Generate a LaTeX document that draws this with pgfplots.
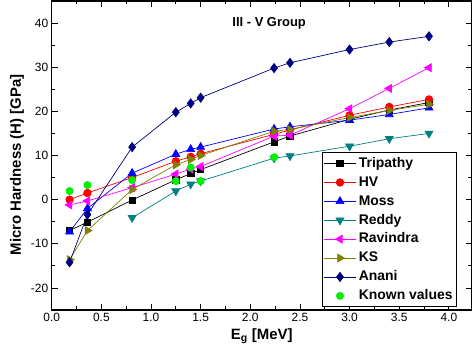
\documentclass[border=0pt]{standalone}
\usepackage{fontspec}
\setmainfont{Liberation Sans}
\usepackage{pgfplots}
\pgfplotsset{compat=1.18}
\definecolor{ksc}{RGB}{128,128,0}
\definecolor{reddyc}{RGB}{0,128,128}
\definecolor{ananic}{RGB}{0,0,128}
\definecolor{knownc}{RGB}{0,240,0}
\definecolor{hvc}{RGB}{255,0,0}
\definecolor{mossc}{RGB}{0,0,255}
\definecolor{ravc}{RGB}{255,0,255}
\begin{document}
\begin{tikzpicture}
\begin{axis}[
  scale only axis, width=420bp, height=309bp,
  xmin=0, xmax=4.23, ymin=-25, ymax=45,
  xtick={0,0.5,1,1.5,2,2.5,3,3.5,4}, minor x tick num=1,
  ytick={-20,-10,0,10,20,30,40}, minor y tick num=1,
  tick align=inside,
  major tick length=6bp, minor tick length=3.5bp,
  axis line style={line width=1.1pt},
  every tick/.style={line width=0.8pt, black},
  /pgf/number format/assume math mode=true,
  xticklabel style={/pgf/number format/fixed, /pgf/number format/fixed zerofill, /pgf/number format/precision=1},
  ticklabel style={font=\fontsize{12}{14}\selectfont},
  xlabel={E\textsubscript{g} [MeV]},
  ylabel={Micro Hardness (H) [GPa]},
  label style={font=\bfseries\fontsize{15}{17}\selectfont},
  ylabel style={at={(ticklabel cs:0.47)}},
  legend style={at={(0.965,0.51)}, anchor=north east, draw=black, line width=0.8pt,
    font=\bfseries\fontsize{14}{16}\selectfont, row sep=0.4bp, inner sep=1.5bp,
    nodes={text height=10.5bp, text depth=3bp, inner sep=2.5bp}},
  legend cell align=left,
  legend image code/.code={\draw[mark repeat=2,mark phase=2,#1] plot coordinates {(0bp,0bp) (16bp,0bp) (32bp,0bp)};},
  every axis plot/.append style={line width=0.7pt},
]
\addplot[black, mark=square*, mark size=3.2pt, mark options={solid}] coordinates {
 (0.18,-7.0) (0.36,-5.1) (0.81,-0.1) (1.25,4.5) (1.40,5.9) (1.50,6.8) (2.24,13.1) (2.40,14.4) (3.00,18.2) (3.40,20.3) (3.80,22.0)};
\addlegendentry{Tripathy}
\addplot[hvc, mark=*, mark size=3.8pt, mark options={solid}] coordinates {
 (0.18,0.0) (0.36,1.5) (0.81,5.0) (1.25,8.7) (1.40,9.7) (1.50,10.4) (2.24,14.8) (2.40,15.8) (3.00,19.1) (3.40,21.0) (3.80,22.7)};
\addlegendentry{HV}
\addplot[mossc, mark=triangle*, mark size=4.6pt, mark options={solid}] coordinates {
 (0.18,-7.3) (0.36,-2.0) (0.81,6.0) (1.25,10.3) (1.40,11.4) (1.50,11.9) (2.24,16.0) (2.40,16.5) (3.00,18.0) (3.40,19.3) (3.80,20.8)};
\addlegendentry{Moss}
\addplot[reddyc, mark=triangle*, mark size=4.6pt, mark options={solid, rotate=180}] coordinates {
 (0.81,-4.1) (1.25,1.95) (1.40,3.5) (1.50,4.2) (2.24,9.4) (2.40,9.9) (3.00,12.1) (3.40,13.8) (3.80,15.0)};
\addlegendentry{Reddy}
\addplot[ravc, mark=triangle*, mark size=4.6pt, mark options={solid, rotate=90}] coordinates {
 (0.18,-1.2) (0.36,-0.3) (0.81,2.7) (1.25,5.8) (1.40,6.9) (1.50,7.5) (2.24,14.4) (2.40,14.6) (3.00,20.6) (3.40,25.2) (3.80,29.9)};
\addlegendentry{Ravindra}
\addplot[ksc, mark=triangle*, mark size=4.6pt, mark options={solid, rotate=-90}] coordinates {
 (0.18,-13.6) (0.36,-7.0) (0.81,2.3) (1.25,7.9) (1.40,9.1) (1.50,10.0) (2.24,15.5) (2.40,15.9) (3.00,18.6) (3.40,20.2) (3.80,21.6)};
\addlegendentry{KS}
\addplot[ananic, mark=diamond*, mark size=4.6pt, mark options={solid}] coordinates {
 (0.18,-14.2) (0.36,-3.4) (0.81,11.9) (1.25,19.8) (1.40,21.8) (1.50,23.1) (2.24,29.8) (2.40,31.0) (3.00,34.0) (3.40,35.7) (3.80,37.0)};
\addlegendentry{Anani}
\addplot[knownc, only marks, mark=*, mark size=3.6pt] coordinates {
 (0.18,1.95) (0.36,3.3) (0.81,4.4) (1.25,4.2) (1.40,7.3) (1.50,4.2) (2.24,9.6)};
\addlegendentry{Known values}
\node[font=\bfseries\fontsize{13}{15}\selectfont] at (axis cs:2.19,40.0) {III - V Group};
\coordinate (ll) at (rel axis cs:0,0);
\coordinate (ur) at (rel axis cs:1,1);
\end{axis}
\pgfresetboundingbox
\path[use as bounding box] ([shift={(-51.7bp,-54bp)}]ll) rectangle ([shift={(2.3bp,1bp)}]ur);
\end{tikzpicture}
\end{document}
